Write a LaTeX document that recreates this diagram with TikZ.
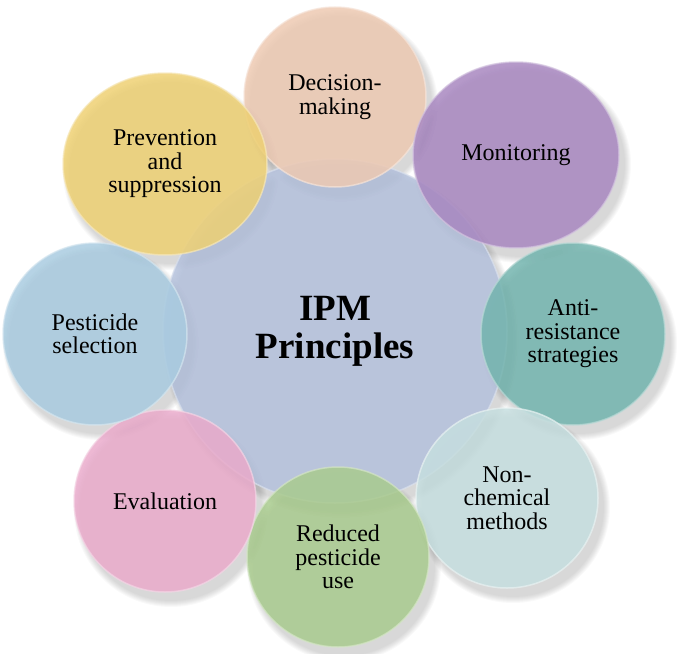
\documentclass[tikz,border=0pt]{standalone}
\usepackage{fontspec}
\setmainfont{Liberation Serif}
\usetikzlibrary{shapes.geometric}
\definecolor{hubblue}{HTML}{B4C1DC}
\definecolor{peach}{HTML}{EDC9B2}
\definecolor{lilac}{HTML}{A887C0}
\definecolor{teal}{HTML}{73B4AE}
\definecolor{ice}{HTML}{C6DEDF}
\definecolor{leaf}{HTML}{A9CB8E}
\definecolor{rose}{HTML}{EAABCB}
\definecolor{sky}{HTML}{A9CBE0}
\definecolor{gold}{HTML}{EED073}

\begin{document}
\begin{tikzpicture}[
    x=1pt,
    y=-1pt,
    semithick
]

\tikzstyle{bubble}=[
    ellipse,
    inner sep=0pt,
    fill opacity=0.85,
    draw opacity=0.7,
    line width=1.5pt,
    text opacity=1,
    align=center,
    font=\fontsize{24}{23.5}\selectfont
]
\tikzstyle{hub}=[
    bubble,
    font=\bfseries\fontsize{37}{38}\selectfont
]

\useasboundingbox (0,0) rectangle (685,653);

% soft shadows
\foreach \cx/\cy/\rx/\ry in {335/331/172/172, 335/97/91/90, 516/155/103/93,
    573/334/92/91, 507/498/91/90, 338/557/91/90, 165/501/91/91,
    95/334/92/91, 165/164/102/91}
  \foreach \k in {0,...,6}
    \fill[black, opacity=0.025] (\cx+6,\cy+9)
      ellipse [x radius={(\rx+\k)*1pt}, y radius={(\ry+\k)*1pt}];

\node[hub, fill=hubblue, draw=hubblue!50!white, minimum width=344pt, minimum height=344pt] (hub) at (335,331) {IPM\\Principles};

\node[bubble, fill=peach, draw=peach!50!white, minimum width=182pt, minimum height=180pt] (deci) at (335,97) {Decision-\\making};
\node[bubble, fill=lilac, draw=lilac!50!white, minimum width=206pt, minimum height=186pt] (moni) at (516,155) {Monitoring};
\node[bubble, fill=teal, draw=teal!50!white, minimum width=184pt, minimum height=182pt] (anti) at (573,334) {Anti-\\resistance\\strategies};
\node[bubble, fill=ice, draw=ice!40!white, minimum width=182pt, minimum height=180pt] (nonc) at (507,498) {Non-\\chemical\\methods};
\node[bubble, fill=leaf, draw=leaf!50!white, minimum width=182pt, minimum height=180pt] (redu) at (338,557) {Reduced\\pesticide\\use};
\node[bubble, fill=rose, draw=rose!50!white, minimum width=182pt, minimum height=182pt] (eval) at (165,501) {Evaluation};
\node[bubble, fill=sky, draw=sky!50!white, minimum width=184pt, minimum height=182pt] (pest) at (95,334) {Pesticide\\selection};
\node[bubble, fill=gold, draw=gold!50!white, minimum width=204pt, minimum height=182pt] (prev) at (165,164) {Prevention\\and\\suppression};

\end{tikzpicture}
\end{document}
